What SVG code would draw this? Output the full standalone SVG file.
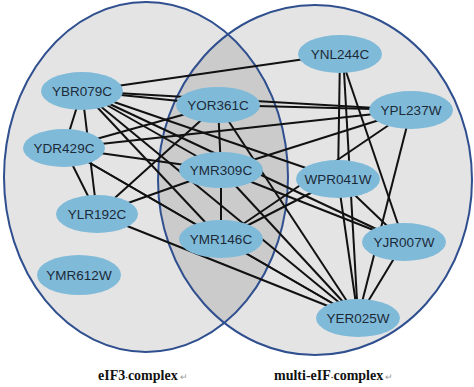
<svg xmlns="http://www.w3.org/2000/svg" width="474" height="387" viewBox="0 0 474 387">
<style>
.set{fill:#e4e4e4;stroke:none}
.ring{fill:none;stroke:#2f4f8f;stroke-width:2}
.edge{stroke:#111;stroke-width:2;fill:none}
.node ellipse{fill:#80bad9;stroke:none}
.node text{font-family:"Liberation Sans",Arial,sans-serif;font-size:13.5px;fill:#1c2a38;text-anchor:middle;dominant-baseline:central}
.lbl{font-family:"Liberation Serif","Times New Roman",serif;font-weight:bold;font-size:14px;fill:#111}
.dot{font-size:8px}
.ret{font-size:9px;fill:#999;font-weight:normal}
</style>
<defs>
<clipPath id="clipL"><ellipse cx="146" cy="177" rx="142" ry="175"/></clipPath>
</defs>
<rect width="474" height="387" fill="#fff"/>
<g id="sets">
<ellipse class="set" cx="146" cy="177" rx="142" ry="175"/>
<ellipse class="set" cx="315" cy="180" rx="157" ry="175"/>
<ellipse cx="315" cy="180" rx="157" ry="175" fill="#cbcbcb" clip-path="url(#clipL)"/>
<ellipse class="ring" cx="146" cy="177" rx="142" ry="175"/>
<ellipse class="ring" cx="315" cy="180" rx="157" ry="175"/>
</g>
<g id="edges" class="edge">
<line x1="82" y1="91" x2="64" y2="148"/>
<line x1="82" y1="91" x2="97" y2="214"/>
<line x1="82" y1="91" x2="218" y2="105"/>
<line x1="82" y1="91" x2="411" y2="110"/>
<line x1="82" y1="91" x2="340" y2="54"/>
<line x1="82" y1="91" x2="221" y2="170"/>
<line x1="82" y1="91" x2="221" y2="239"/>
<line x1="82" y1="91" x2="338" y2="179"/>
<line x1="82" y1="91" x2="404" y2="242"/>
<line x1="82" y1="91" x2="358" y2="318"/>
<line x1="64" y1="148" x2="97" y2="214"/>
<line x1="64" y1="148" x2="218" y2="105"/>
<line x1="64" y1="148" x2="411" y2="110"/>
<line x1="64" y1="148" x2="221" y2="170"/>
<line x1="64" y1="148" x2="221" y2="239"/>
<line x1="64" y1="148" x2="358" y2="318"/>
<line x1="218" y1="105" x2="221" y2="170"/>
<line x1="218" y1="105" x2="411" y2="110"/>
<line x1="218" y1="105" x2="358" y2="318"/>
<line x1="218" y1="105" x2="97" y2="214"/>
<line x1="221" y1="170" x2="221" y2="239"/>
<line x1="221" y1="170" x2="411" y2="110"/>
<line x1="221" y1="170" x2="404" y2="242"/>
<line x1="221" y1="170" x2="358" y2="318"/>
<line x1="221" y1="170" x2="97" y2="214"/>
<line x1="221" y1="239" x2="411" y2="110"/>
<line x1="221" y1="239" x2="338" y2="179"/>
<line x1="221" y1="239" x2="358" y2="318"/>
<line x1="97" y1="214" x2="358" y2="318"/>
<line x1="340" y1="54" x2="338" y2="179"/>
<line x1="343" y1="54" x2="358" y2="318"/>
<line x1="340" y1="54" x2="404" y2="242"/>
<line x1="411" y1="110" x2="358" y2="318"/>
<line x1="338" y1="179" x2="358" y2="318"/>
<line x1="338" y1="179" x2="404" y2="242"/>
<line x1="404" y1="242" x2="358" y2="318"/>
</g>
<g id="YBR079C" class="node"><ellipse cx="82" cy="91" rx="41" ry="19"/><text x="82" y="91">YBR079C</text></g>
<g id="YDR429C" class="node"><ellipse cx="64" cy="148" rx="41" ry="19"/><text x="64" y="148">YDR429C</text></g>
<g id="YOR361C" class="node"><ellipse cx="218" cy="105" rx="42" ry="18"/><text x="218" y="105">YOR361C</text></g>
<g id="YMR309C" class="node"><ellipse cx="221" cy="170" rx="42" ry="18"/><text x="221" y="170">YMR309C</text></g>
<g id="YMR146C" class="node"><ellipse cx="221" cy="239" rx="42" ry="19"/><text x="221" y="239">YMR146C</text></g>
<g id="YLR192C" class="node"><ellipse cx="97" cy="214" rx="41" ry="19"/><text x="97" y="214">YLR192C</text></g>
<g id="YMR612W" class="node"><ellipse cx="79" cy="275" rx="42" ry="20"/><text x="79" y="275">YMR612W</text></g>
<g id="YNL244C" class="node"><ellipse cx="340" cy="54" rx="42" ry="19"/><text x="340" y="54">YNL244C</text></g>
<g id="YPL237W" class="node"><ellipse cx="411" cy="110" rx="42" ry="19"/><text x="411" y="110">YPL237W</text></g>
<g id="WPR041W" class="node"><ellipse cx="338" cy="179" rx="42" ry="19"/><text x="338" y="179">WPR041W</text></g>
<g id="YJR007W" class="node"><ellipse cx="404" cy="242" rx="42" ry="19"/><text x="404" y="242">YJR007W</text></g>
<g id="YER025W" class="node"><ellipse cx="358" cy="318" rx="42" ry="19"/><text x="358" y="318">YER025W</text></g>
<g id="labels">
<text class="lbl" x="98" y="380">eIF3<tspan class="dot">·</tspan>complex<tspan class="ret" dx="2">↵</tspan></text>
<text class="lbl" x="274" y="380">multi-eIF<tspan class="dot">·</tspan>complex<tspan class="ret" dx="2">↵</tspan></text>
</g>
</svg>
